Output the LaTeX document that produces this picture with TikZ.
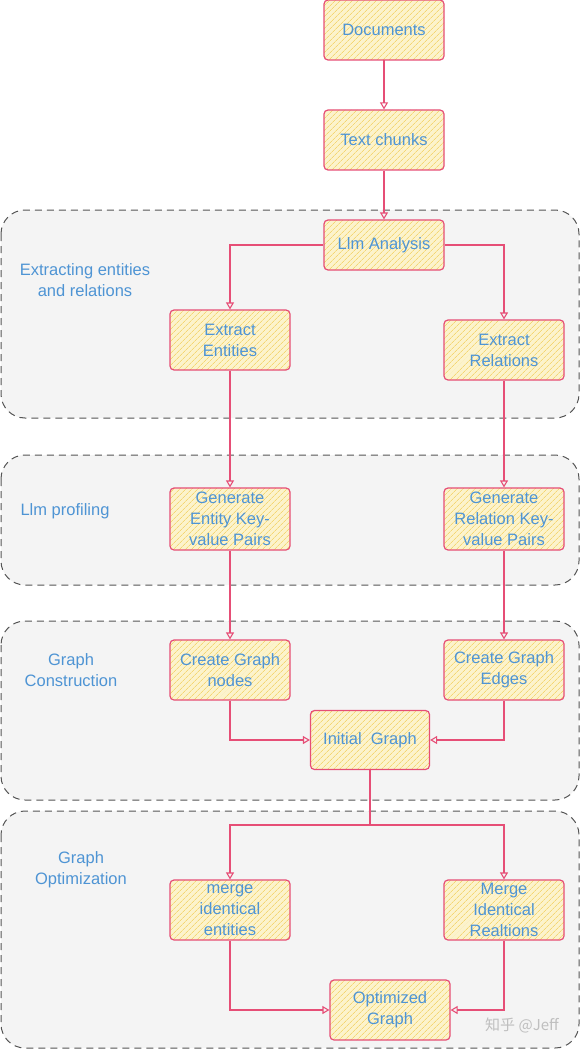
\documentclass[tikz,border=0pt]{standalone}
\usepackage{fontspec}
\setmainfont{Liberation Sans}
\newfontfamily\cjkwm{Noto Sans CJK SC}
\usetikzlibrary{arrows.meta,patterns.meta}
\definecolor{boxred}{RGB}{230,78,118}
\definecolor{boxfill}{RGB}{252,243,204}
\definecolor{hatch}{RGB}{244,214,115}
\definecolor{txtblue}{RGB}{78,148,212}
\definecolor{grpfill}{RGB}{244,244,244}
\definecolor{grpline}{RGB}{85,85,85}
\tikzset{
  box/.style={draw=boxred, line width=1.2pt, rounded corners=4pt,
    preaction={fill=boxfill},
    pattern={Lines[angle=45,distance=4pt,line width=0.8pt]}, pattern color=hatch,
    minimum width=120pt, minimum height=60pt, align=center, text=txtblue,
    font=\fontsize{16.5}{21}\selectfont, inner sep=0pt},
  grp/.style={draw=grpline, dash pattern=on 7pt off 5pt, line width=1pt,
    rounded corners=24pt, fill=grpfill},
  lbl/.style={text=txtblue, align=center, font=\fontsize{16.5}{21}\selectfont},
  arr/.style={draw=boxred, line width=1.1pt, -{Triangle[open,length=7pt,width=8pt]}},
  ln/.style={draw=boxred, line width=1.1pt}
}
\begin{document}
\begin{tikzpicture}[x=1pt,y=-1pt]
\useasboundingbox (0,0) rectangle (581,1051);
% groups
\draw[grp] (1,210) rectangle (579,418);
\draw[grp] (1,455) rectangle (579,585);
\draw[grp] (1,621) rectangle (579,800);
\draw[grp] (1,811) rectangle (579,1048);
% group labels
\node[lbl] (l1) at (85,280) {Extracting entities\\and relations};
\node[lbl] (l2) at (65,511) {Llm profiling};
\node[lbl] (l3) at (71,670) {Graph\\Construction};
\node[lbl] (l4) at (81,870) {Graph\\Optimization};
% boxes
\node[box] (doc) at (384,30) {Documents};
\node[box] (chunk) at (384,140) {Text chunks};
\node[box, minimum height=50pt] (llm) at (384,245) {Llm Analysis};
\node[box] (ee) at (230,340) {Extract\\Entities};
\node[box] (er) at (504,350) {Extract\\Relations};
\node[box, minimum height=62pt] (ge) at (230,519) {Generate\\Entity Key-\\value Pairs};
\node[box, minimum height=62pt] (gr) at (504,519) {Generate\\Relation Key-\\value Pairs};
\node[box] (cn) at (230,670) {Create Graph\\nodes};
\node[box] (ce) at (504,670) {Create Graph\\Edges};
\node[box, minimum width=119pt, minimum height=59pt] (ig) at (370,740) {Initial\ \ Graph};
\node[box] (me) at (230,910) {merge\\identical\\entities};
\node[box] (mr) at (504,910) {Merge\\Identical\\Realtions};
\node[box] (og) at (390,1010) {Optimized\\Graph};
% connectors
\draw[arr] (doc) -- (chunk);
\draw[arr] (chunk) -- (llm);
\draw[arr] (llm.west) -| (ee.north);
\draw[arr] (llm.east) -| (er.north);
\draw[arr] (ee) -- (ge);
\draw[arr] (er) -- (gr);
\draw[arr] (ge) -- (cn);
\draw[arr] (gr) -- (ce);
\draw[arr] (cn.south) |- (ig.west);
\draw[arr] (ce.south) |- (ig.east);
\coordinate (split) at (370,825);
\draw[arr] (ig.south) -- (split) -| (me.north);
\draw[arr] (split) -| (mr.north);
\draw[arr] (me.south) |- (og.west);
\draw[arr] (mr.south) |- (og.east);
% watermark
\node[text=black!25, font=\cjkwm\fontsize{15}{17}\selectfont] (wm) at (522,1025) {知乎 @Jeff};
\end{tikzpicture}
\end{document}
